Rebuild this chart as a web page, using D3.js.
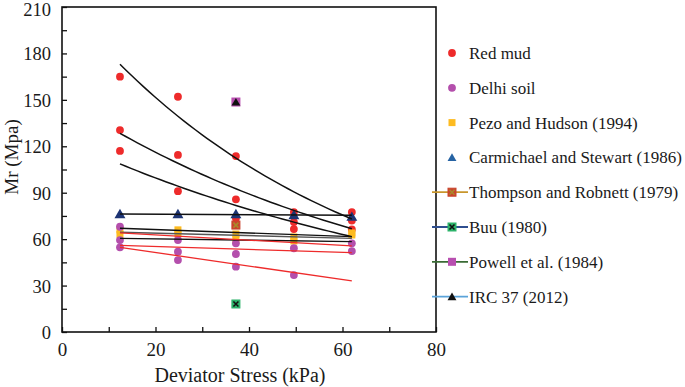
<!DOCTYPE html>
<html><head><meta charset="utf-8">
<script src="https://cdn.jsdelivr.net/npm/d3@7"></script>
<style>
body{margin:0;background:#fff}
svg{display:block}
text{font-family:"Liberation Serif","Times New Roman",serif;fill:#1a1a1a}
</style>
</head><body><svg id="c" width="685" height="387"></svg>
<script>
// ---------- data ----------
const stress = [12.4, 24.8, 37.2, 49.6, 62];
const redMud = [
  [165, 152, 113.7, 77.5, 77.5],
  [130.5, 114.4, 85.7, 71, 72],
  [117, 91, 73.5, 66.5, 66.3]
];
// exponential trendlines: value at first and last stress
const redMudTrend = [[173, 73], [128.4, 66.7], [108.6, 61.6]];
const delhiSoil = [
  [68, 59.4, 57.3, 54.1, 57.3],
  [59.4, 51.9, 50.4, null, 52.3],
  [54.7, 46.5, 42.2, 36.8, null]
];
// linear trendlines: value at first and last stress
const delhiTrend = [[64, 55.6], [56, 51.3], [54.7, 33]];
const pezo = [
  [66, 66, 63.3, 61.4, 64],
  [63, 63.3, 59.8, 58.8, 62.7]
];
const carmichael = [76.2, 76.2, 76.2, 75.6, 74.5];
const blackLinearTrend = [[76.2, 75.4], [67, 61.6], [64.5, 60.5], [60.5, 58.4]];
const singleStress = 37.2;
const thompson = 69.1, buu = 18.1, powell = 148.6, irc = 148.6;
const xTickValues = [0, 10, 20, 30, 40, 50, 60, 70, 80];
const yTickValues = [0, 15, 30, 45, 60, 75, 90, 105, 120, 135, 150, 165, 180, 195, 210];
const legendLabels = ["Red mud", "Delhi soil", "Pezo and Hudson (1994)", "Carmichael and Stewart (1986)",
  "Thompson and Robnett (1979)", "Buu (1980)", "Powell et al. (1984)", "IRC 37 (2012)"];

// ---------- styles ----------
const C = {
  red: "#ee2b2b", purple: "#b44fac", yellow: "#fdbb21", navy: "#1d3474", navyLeg: "#2663a3",
  tr: "#c9442c", trX: "#a88a2a", trLine: "#c8962c",
  buu: "#2db36b", buuLine: "#2f4f8f",
  powell: "#b84fb0", powellLine: "#3a6b35",
  irc: "#111", ircLine: "#5ba3d9"
};

const svg = d3.select("#c");
const x = d3.scaleLinear().domain([0, 80]).range([62, 436]);
const y = d3.scaleLinear().domain([0, 210]).range([332, 7]);

// axes with inward ticks
const xAxis = d3.axisBottom(x).tickValues(xTickValues).tickSize(-5)
  .tickFormat(d => d % 20 === 0 ? d : "");
const gx = svg.append("g").attr("transform", "translate(0,332)").call(xAxis);
gx.select(".domain").remove();
gx.selectAll(".tick line").attr("stroke", "#111").attr("stroke-width", 1.3);
gx.selectAll("text").attr("y", 24).attr("dy", 0).attr("font-size", 19)
  .style("font-family", "Liberation Serif").attr("fill", "#1a1a1a");

const yAxis = d3.axisLeft(y).tickValues(yTickValues).tickSize(-5)
  .tickFormat(d => d % 30 === 0 ? d : "");
const gy = svg.append("g").attr("transform", "translate(62,0)").call(yAxis);
gy.select(".domain").remove();
gy.selectAll(".tick line").attr("stroke", "#111").attr("stroke-width", 1.3);
gy.selectAll("text").attr("x", -11).attr("dy", d => d === 210 ? "0.45em" : "0.35em").attr("font-size", 18.5)
  .style("font-family", "Liberation Serif").attr("fill", "#1a1a1a");

// frame
svg.append("rect").attr("x", x(0)).attr("y", y(210)).attr("width", x(80) - x(0)).attr("height", y(0) - y(210))
  .attr("fill", "none").attr("stroke", "#111").attr("stroke-width", 1.6);

// axis titles
svg.append("text").attr("x", 240).attr("y", 382).attr("text-anchor", "middle").attr("font-size", 20)
  .text("Deviator Stress (kPa)");
svg.append("text").attr("transform", "translate(18,157) rotate(-90)").attr("text-anchor", "middle")
  .attr("font-size", 19).text("Mr (Mpa)");

// ---------- marker helpers ----------
const plot = svg.append("g");
function circle(g, cx, cy, col) {
  g.append("circle").attr("cx", cx).attr("cy", cy).attr("r", 3.9).attr("fill", col);
}
function square(g, cx, cy, col, s = 7) {
  g.append("rect").attr("x", cx - s / 2).attr("y", cy - s / 2).attr("width", s).attr("height", s).attr("fill", col);
}
function xsquare(g, cx, cy, fill, xcol, stroke) {
  g.append("rect").attr("x", cx - 4).attr("y", cy - 4).attr("width", 8).attr("height", 8)
    .attr("fill", fill).attr("stroke", stroke || fill).attr("stroke-width", 1);
  g.append("path").attr("d", `M${cx - 2.5},${cy - 2.5}L${cx + 2.5},${cy + 2.5}M${cx + 2.5},${cy - 2.5}L${cx - 2.5},${cy + 2.5}`)
    .attr("stroke", xcol).attr("stroke-width", 1.6);
}
function triangle(g, cx, cy, col, size = 52) {
  g.append("path").attr("transform", `translate(${cx},${cy + 1})`)
    .attr("d", d3.symbol(d3.symbolTriangle, size)()).attr("fill", col);
}

// ---------- markers ----------
redMud.forEach(s => s.forEach((v, i) => { if (v != null) circle(plot, x(stress[i]), y(v), C.red); }));
pezo.forEach(s => s.forEach((v, i) => { if (v != null) square(plot, x(stress[i]), y(v), C.yellow); }));
delhiSoil.forEach(s => s.forEach((v, i) => { if (v != null) circle(plot, x(stress[i]), y(v), C.purple); }));
carmichael.forEach((v, i) => triangle(plot, x(stress[i]), y(v), C.navy));

// ---------- trendlines ----------
const x0 = stress[0], x1 = stress[stress.length - 1];
const line = d3.line().x(d => x(d[0])).y(d => y(d[1]));
redMudTrend.forEach(([a, b]) => {
  const pts = d3.range(0, 41).map(k => {
    const t = k / 40, s = x0 + t * (x1 - x0);
    return [s, a * Math.pow(b / a, t)];
  });
  plot.append("path").attr("d", line(pts)).attr("fill", "none").attr("stroke", "#111").attr("stroke-width", 1.5);
});
blackLinearTrend.forEach(([a, b], i) => {
  plot.append("path").attr("d", line([[x0, a], [x1, b]])).attr("fill", "none")
    .attr("stroke", i === 2 ? "#555" : "#111").attr("stroke-width", 1.4);
});
delhiTrend.forEach(([a, b]) => {
  plot.append("path").attr("d", line([[x0, a], [x1, b]])).attr("fill", "none")
    .attr("stroke", C.red).attr("stroke-width", 1.3);
});

// ---------- single points ----------
xsquare(plot, x(singleStress), y(thompson), C.tr, C.trX);
xsquare(plot, x(singleStress), y(buu), C.buu, "#111");
square(plot, x(singleStress), y(powell), C.powell, 9);
triangle(plot, x(singleStress), y(irc), C.irc, 34);

// ---------- legend ----------
const lg = svg.append("g");
const lx = 452, ly0 = 53, step = 34.8;
legendLabels.forEach((t, i) => {
  const cy = ly0 + i * step;
  lg.append("text").attr("x", 469).attr("y", cy).attr("dy", "0.35em").attr("font-size", 17).text(t);
});
circle(lg, lx, ly0, C.red);
circle(lg, lx, ly0 + step, C.purple);
square(lg, lx, ly0 + 2 * step, C.yellow);
triangle(lg, lx, ly0 + 3 * step, C.navyLeg, 34);
const lineItem = (i, col) => lg.append("line").attr("x1", 432).attr("x2", 468)
  .attr("y1", ly0 + i * step).attr("y2", ly0 + i * step).attr("stroke", col).attr("stroke-width", 1.8);
lineItem(4, C.trLine); xsquare(lg, lx, ly0 + 4 * step, C.tr, C.trX);
lineItem(5, C.buuLine); xsquare(lg, lx, ly0 + 5 * step, C.buu, "#111");
lineItem(6, C.powellLine); square(lg, lx, ly0 + 6 * step, C.powell, 8);
lineItem(7, C.ircLine); triangle(lg, lx, ly0 + 7 * step, "#111", 34);
</script>
</body></html>
